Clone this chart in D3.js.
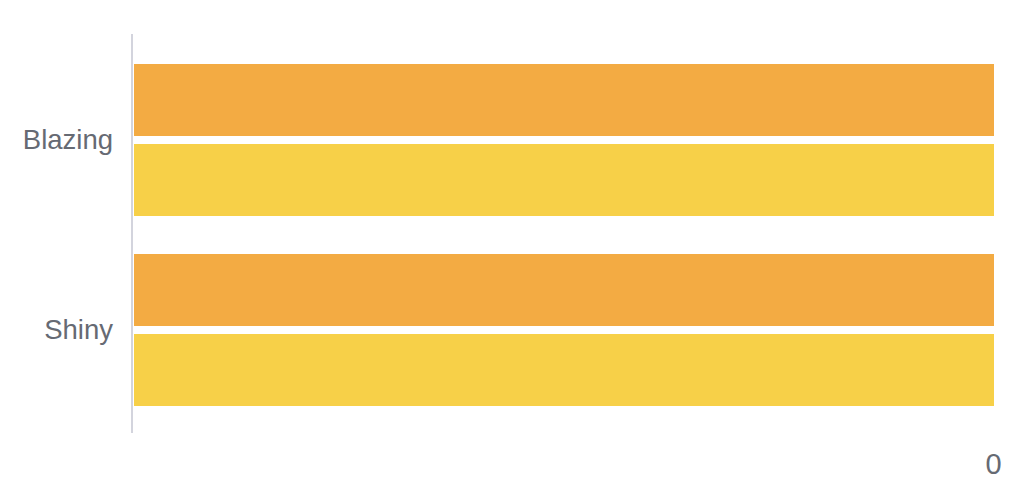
<!DOCTYPE html>
<html><head><meta charset="utf-8">
<script src="https://cdn.jsdelivr.net/npm/d3@7"></script>
<style>body{margin:0;background:#fff}svg{display:block}</style>
</head><body><svg id="c" width="1036" height="500"></svg>
<script>
const categories = ["Blazing", "Shiny"];
const seriesNames = ["Series A", "Series B"];
const seriesA = [-1, -1];
const seriesB = [-1, -1];
const xTicks = [0];
const colors = ["#F3AB43", "#F7D048"];

const svg = d3.select("#c");
const plotLeft = 133, plotRight = 994, plotTop = 34, plotBottom = 433;
const x = d3.scaleLinear().domain([-1, 0]).range([plotLeft + 1, plotRight]);
const y = d3.scaleBand().domain(categories).range([45, 425]).paddingInner(0.2).paddingOuter(0.1);
const ys = d3.scaleBand().domain(seriesNames).range([0, y.bandwidth()]).paddingInner(0.1);
const data = categories.map((c, i) => ({cat: c, vals: [seriesA[i], seriesB[i]]}));

const g = svg.append("g");
g.selectAll("g.cat").data(data).join("g").attr("class", "cat")
  .attr("transform", d => `translate(0,${y(d.cat)})`)
  .selectAll("rect").data(d => d.vals.map((v, j) => ({v, s: seriesNames[j], j})))
  .join("rect")
  .attr("x", d => x(Math.min(0, d.v)))
  .attr("width", d => Math.abs(x(d.v) - x(0)))
  .attr("y", d => ys(d.s))
  .attr("height", ys.bandwidth())
  .attr("fill", d => colors[d.j]);

svg.append("line").attr("x1", 132).attr("x2", 132).attr("y1", plotTop).attr("y2", plotBottom)
  .attr("stroke", "#d3d4dd").attr("stroke-width", 2);

svg.selectAll("text.cat").data(categories).join("text").attr("class", "cat")
  .attr("x", 113).attr("y", d => y(d) + y.bandwidth() / 2 + 9)
  .attr("text-anchor", "end")
  .attr("font-family", "Liberation Sans, Arial, sans-serif").attr("font-size", 27.5)
  .attr("fill", "#666a73").text(d => d);

svg.selectAll("text.tick").data(xTicks).join("text").attr("class", "tick")
  .attr("x", d => x(d) - 0.5).attr("y", 474)
  .attr("text-anchor", "middle")
  .attr("font-family", "Liberation Sans, Arial, sans-serif").attr("font-size", 29)
  .attr("fill", "#666a73").text(d => d);
</script></body></html>
